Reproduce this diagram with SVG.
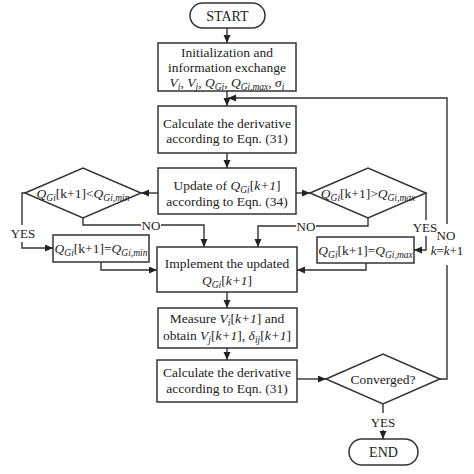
<svg xmlns="http://www.w3.org/2000/svg" width="474" height="474" viewBox="0 0 474 474">
<defs>
<marker id="ah" markerUnits="userSpaceOnUse" markerWidth="9" markerHeight="8" refX="8" refY="3.5" orient="auto"><path d="M0,0 L8,3.5 L0,7 z" fill="#222"/></marker>
<style>
.box{fill:#fff;stroke:#333;stroke-width:1.5}
.ln{fill:none;stroke:#333;stroke-width:1.4}
.ar{fill:none;stroke:#333;stroke-width:1.4;marker-end:url(#ah)}
text{font-family:"Liberation Serif","Times New Roman",serif;font-size:13.5px;fill:#222;text-anchor:middle}
.i{font-style:italic}
.s{font-size:9.5px}
.lb{font-size:13px}
</style>
</defs>
<rect width="474" height="474" fill="#fff"/>
<g id="connectors">
<path class="ar" d="M227,28 V43"/>
<path class="ar" d="M227,91 V106"/>
<path class="ar" d="M227,153 V168"/>
<path class="ar" d="M158,193 H141"/>
<path class="ar" d="M296,193 H310"/>
<path class="ln" d="M25,193 H22 V225"/>
<path class="ar" d="M22,242 V248 H53"/>
<path class="ln" d="M83,218 V225 H141"/>
<path class="ar" d="M161,225 H204 V247"/>
<path class="ln" d="M368,218 V226 H316"/>
<path class="ar" d="M296,226 H258 V247"/>
<path class="ln" d="M426,193 V220"/>
<path class="ar" d="M426,236 V250 H414"/>
<path class="ar" d="M101,262 V270 H157"/>
<path class="ar" d="M366,263 V270 H297"/>
<path class="ar" d="M227,292 V308"/>
<path class="ar" d="M227,348 V360"/>
<path class="ar" d="M297,379 H326"/>
<path class="ln" d="M383,404 V413"/>
<path class="ar" d="M383,430 V439"/>
<path class="ln" d="M440,379 H447 V265"/>
<path class="ar" d="M447,224 V98 H228"/>
<text class="lb" x="23" y="237.5">YES</text>
<text class="lb" x="151" y="229.5">NO</text>
<text class="lb" x="306" y="230.5">NO</text>
<text class="lb" x="425" y="232">YES</text>
<text class="lb" x="446" y="239.5">NO</text>
<text class="lb" x="447" y="254.5"><tspan class="i">k</tspan>=<tspan class="i">k</tspan>+1</text>
<text class="lb" x="383" y="426.5">YES</text>
</g>
<g id="start">
<rect class="box" x="190" y="3" width="75" height="25" rx="12.5"/>
<text x="227.5" y="20.5" style="font-size:14px">START</text>
</g>
<g id="init">
<rect class="box" x="158" y="43" width="138" height="48"/>
<text x="227" y="57">Initialization and</text>
<text x="227" y="72">information exchange</text>
<text x="227" y="86.5"><tspan class="i">V</tspan><tspan class="s i" dy="3">i</tspan><tspan dy="-3">, </tspan><tspan class="i">V</tspan><tspan class="s i" dy="3">j</tspan><tspan dy="-3">, </tspan><tspan class="i">Q</tspan><tspan class="s i" dy="3">Gi</tspan><tspan dy="-3">, </tspan><tspan class="i">Q</tspan><tspan class="s i" dy="3">Gi,max</tspan><tspan dy="-3">, </tspan><tspan class="i">σ</tspan><tspan class="s i" dy="3">i</tspan></text>
</g>
<g id="calc1">
<rect class="box" x="158" y="106" width="138" height="47"/>
<text x="227" y="127.5">Calculate the derivative</text>
<text x="227" y="142.5">according to Eqn. (31)</text>
</g>
<g id="update">
<rect class="box" x="158" y="168" width="138" height="46"/>
<text x="227" y="189.5">Update of <tspan class="i">Q</tspan><tspan class="s i" dy="3">Gi</tspan><tspan dy="-3">[</tspan><tspan class="i">k+1</tspan>]</text>
<text x="227" y="205.5">according to Eqn. (34)</text>
</g>
<g id="checkMin">
<polygon class="box" points="25,193 83,168 141,193 83,218"/>
<text x="83" y="197.5"><tspan class="i">Q</tspan><tspan class="s i" dy="3">Gi</tspan><tspan dy="-3">[k+1]&lt;</tspan><tspan class="i">Q</tspan><tspan class="s i" dy="3">Gi,min</tspan></text>
</g>
<g id="checkMax">
<polygon class="box" points="310,193 368,168 426,193 368,218"/>
<text x="368" y="197.5"><tspan class="i">Q</tspan><tspan class="s i" dy="3">Gi</tspan><tspan dy="-3">[k+1]&gt;</tspan><tspan class="i">Q</tspan><tspan class="s i" dy="3">Gi,max</tspan></text>
</g>
<g id="setMin">
<rect class="box" x="53" y="235" width="96" height="27"/>
<text x="101" y="253"><tspan class="i">Q</tspan><tspan class="s i" dy="3">Gi</tspan><tspan dy="-3">[k+1]=</tspan><tspan class="i">Q</tspan><tspan class="s i" dy="3">Gi,min</tspan></text>
</g>
<g id="setMax">
<rect class="box" x="317" y="237" width="97" height="26"/>
<text x="365.5" y="254.5"><tspan class="i">Q</tspan><tspan class="s i" dy="3">Gi</tspan><tspan dy="-3">[k+1]=</tspan><tspan class="i">Q</tspan><tspan class="s i" dy="3">Gi,max</tspan></text>
</g>
<g id="implement">
<rect class="box" x="157" y="247" width="140" height="45"/>
<text x="227" y="267.5">Implement the updated</text>
<text x="227" y="284.5"><tspan class="i">Q</tspan><tspan class="s i" dy="3">Gi</tspan><tspan dy="-3">[</tspan><tspan class="i">k+1</tspan>]</text>
</g>
<g id="measure">
<rect class="box" x="158" y="308" width="139" height="40"/>
<text x="227" y="322.5">Measure <tspan class="i">V</tspan><tspan class="s i" dy="3">i</tspan><tspan dy="-3">[</tspan><tspan class="i">k+1</tspan>] and</text>
<text x="227" y="339.5">obtain <tspan class="i">V</tspan><tspan class="s i" dy="3">j</tspan><tspan dy="-3">[</tspan><tspan class="i">k+1</tspan>], <tspan class="i">δ</tspan><tspan class="s i" dy="3">ij</tspan><tspan dy="-3">[</tspan><tspan class="i">k+1</tspan>]</text>
</g>
<g id="calc2">
<rect class="box" x="157" y="360" width="140" height="42"/>
<text x="227" y="376.5">Calculate the derivative</text>
<text x="227" y="392.5">according to Eqn. (31)</text>
</g>
<g id="converged">
<polygon class="box" points="326,379 383,354 440,379 383,404"/>
<text x="383" y="383.5">Converged?</text>
</g>
<g id="end">
<rect class="box" x="349" y="439" width="69" height="26" rx="13"/>
<text x="383.5" y="457" style="font-size:14px">END</text>
</g>
</svg>
